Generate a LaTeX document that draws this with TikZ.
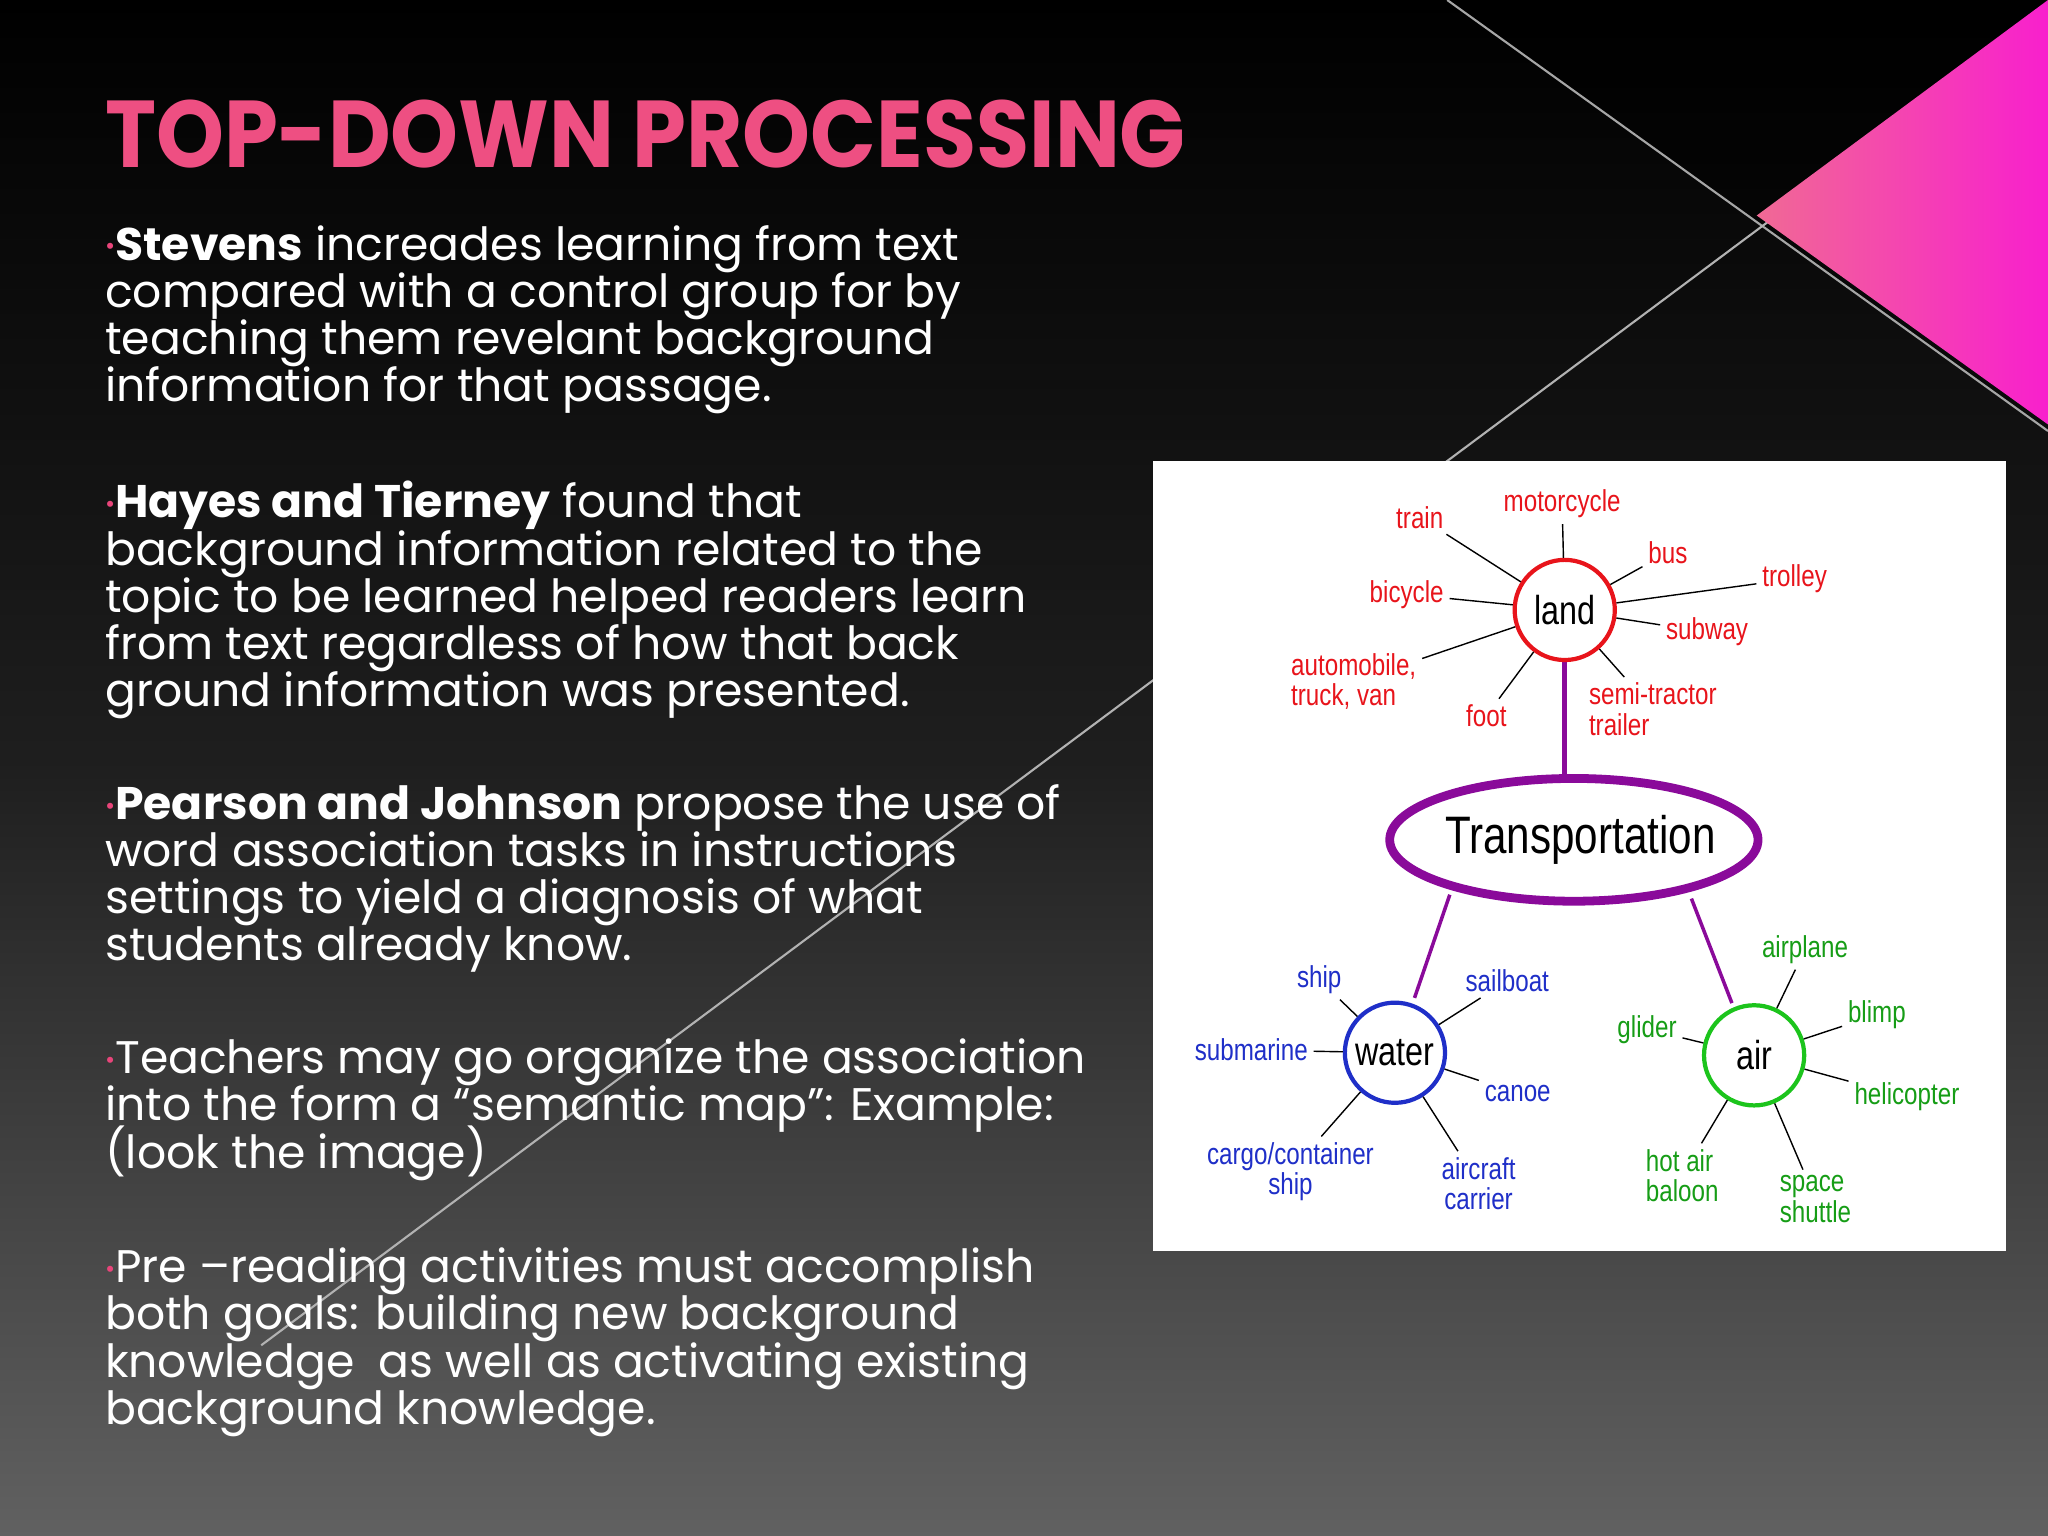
\documentclass[tikz,border=0pt]{standalone}
\usepackage{fontspec}
\setmainfont{Poppins}
\newfontfamily\mapfont[FakeStretch=0.8]{Liberation Sans}
\setlength{\lineskiplimit}{-20pt}
\definecolor{ttl}{HTML}{EE4F82}
\definecolor{bul}{HTML}{E8457A}
\definecolor{lred}{HTML}{E8141B}
\definecolor{wblue}{HTML}{1F2FC8}
\definecolor{agreen}{HTML}{1CC41C}
\definecolor{tpurple}{HTML}{8A0A9A}
\newcommand{\bu}{{\color{bul}\fontsize{7}{7}\selectfont\raisebox{1.5pt}{•}}}
\tikzset{
 body/.style={anchor=north west,align=left,text=white,font=\fontsize{13}{13.4}\selectfont,inner sep=0},
 lab/.style={font=\mapfont\fontsize{8.6}{8.6}\selectfont,inner sep=1.5pt,align=left},
 hub/.style={circle,draw,line width=1.2pt,minimum size=28.5pt,inner sep=0,font=\mapfont\fontsize{11.5}{12}\selectfont,fill=white},
 spoke/.style={draw=black,line width=0.4pt},
}
\begin{document}
\begin{tikzpicture}[x=0.013061cm,y=-0.013061cm]
\useasboundingbox (0,0) rectangle (1568,1176);
\shade[top color=black,bottom color=black!62!white,middle color=black!88!white] (0,0) rectangle (1568,1176);
\fill[black,opacity=0.35] (0,0) -- (1110,0) -- (1568,330) -- (1568,0) -- cycle;
\draw[gray!70,line width=0.6pt] (1108,0) -- (1568,330);
\draw[gray!60,line width=0.6pt] (200,1030) -- (1568,10);
\shade[left color=ttl!85!white,right color=magenta!60!ttl] (1345,165) -- (1568,0) -- (1568,325) -- cycle;
\node[anchor=west,text=ttl,inner sep=0,xscale=0.91,font=\bfseries\fontsize{27}{27}\selectfont] (title) at (80,103) {TOP-DOWN PROCESSING};
\node[body] (p1) at (80,172) {\bu\textbf{Stevens} increades learning from text\\compared with a control group for by\\teaching them revelant background\\information for that passage.};
\node[body] (p2) at (80,368) {\bu\textbf{Hayes and Tierney} found that\\background information related to the\\topic to be learned helped readers learn\\from text regardless of how that back\\ground information was presented.};
\node[body] (p3) at (80,600) {\bu\textbf{Pearson and Johnson} propose the use of\\word association tasks in instructions\\settings to yield a diagnosis of what\\students already know.};
\node[body] (p4) at (80,795) {\bu Teachers may go organize the association\\into the form a “semantic map”: Example:\\(look the image)};
\node[body] (p5) at (80,955) {\bu Pre –reading activities must accomplish\\both goals: building new background\\knowledge\ \ as well as activating existing\\background knowledge.};
% map
\fill[white] (883,353) rectangle (1536,958);
\draw[tpurple,line width=1.3pt] (1198,505) -- (1198,597);
\draw[tpurple,line width=1pt] (1110,685) -- (1083,764);
\draw[tpurple,line width=1pt] (1295,688) -- (1326,768);
\draw[tpurple,line width=2.5pt,fill=white] (1205,643) ellipse (141 and 47);
\node[font=\mapfont\fontsize{15}{15}\selectfont] (trt) at (1210,643) {Transportation};
\node[hub,draw=lred] (land) at (1198,467) {land};
\node[hub,draw=wblue] (water) at (1068,806) {water};
\node[hub,draw=agreen] (air) at (1343,808) {air};
\begin{scope}[every node/.style={lab,text=lred}]
\node (train) at (1087,396) {train};
\node (moto) at (1196,386) {motorcycle};
\node (bus) at (1277,423) {bus};
\node (trol) at (1374,443) {trolley};
\node (bic) at (1077,455) {bicycle};
\node (sub) at (1307,484) {subway};
\node[anchor=west] (auto) at (984,522) {automobile,\\truck, van};
\node (foot) at (1138,548) {foot};
\node[anchor=west] (semi) at (1212,543) {semi-tractor\\trailer};
\end{scope}
\begin{scope}[every node/.style={lab,text=wblue}]
\node (ship) at (1010,750) {ship};
\node (sail) at (1154,751) {sailboat};
\node (subm) at (958,804) {submarine};
\node (canoe) at (1162,837) {canoe};
\node[align=center] (cargo) at (988,897) {cargo/container\\ship};
\node[align=center] (airc) at (1132,906) {aircraft\\carrier};
\end{scope}
\begin{scope}[every node/.style={lab,text=agreen!80!black}]
\node (plane) at (1382,727) {airplane};
\node (glider) at (1261,788) {glider};
\node (blimp) at (1437,777) {blimp};
\node (heli) at (1460,840) {helicopter};
\node[align=left] (hot) at (1288,900) {hot air\\baloon};
\node[align=left] (space) at (1390,918) {space\\shuttle};
\end{scope}
\foreach \t in {train,moto,bus,trol,bic,sub,auto,foot,semi} \draw[spoke] (land) -- (\t);
\foreach \t in {ship,sail,subm,canoe,cargo,airc} \draw[spoke] (water) -- (\t);
\foreach \t in {plane,glider,blimp,heli,hot,space} \draw[spoke] (air) -- (\t);
\end{tikzpicture}
\end{document}
